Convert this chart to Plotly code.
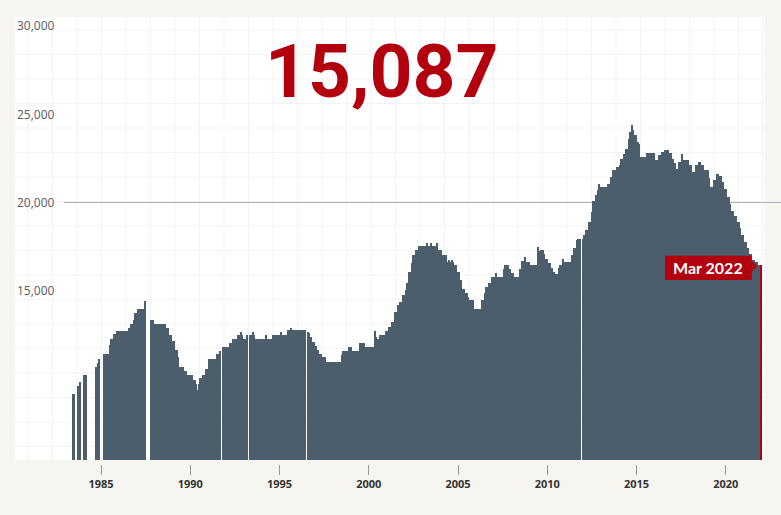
import plotly.graph_objects as go

# ---------------- data (monthly values, run-length: [value, number of months]) ----------------
# series starts January 1983; None = month with no data
RUNS_1983_1989 = [
    [None, 7], [9150, 2], [None, 2], [9600, 1], [9830, 1], [None, 2], [10265, 2], [None, 6],
    [10717, 1], [10944, 1], [11170, 1], [None, 2], [11400, 4], [11920, 1], [12250, 2], [12530, 2],
    [12700, 8], [12900, 1], [13150, 2], [13340, 1], [13750, 2], [14000, 5], [14414, 1], [None, 3],
    [13330, 2], [13110, 8], [12870, 2], [12490, 2], [12150, 2], [11640, 2], [11260, 1], [10700, 3],
    [10450, 2],
]
RUNS_1990_1999 = [
    [10220, 4], [9940, 2], [9700, 1], [9380, 1], [9700, 1], [10040, 2], [10265, 2], [10600, 2],
    [11150, 5], [11410, 2], [11600, 1], [None, 1], [11830, 5], [12030, 2], [12280, 3], [12490, 2],
    [12680, 1], [12490, 1], [12300, 2], [12490, 1], [None, 1], [12490, 2], [12680, 1], [12490, 1],
    [12260, 7], [12490, 1], [12260, 4], [12490, 5], [12680, 1], [12490, 4], [12780, 2], [12900, 1],
    [12780, 9], [None, 1], [12680, 1], [12600, 1], [12390, 1], [12110, 2], [11880, 2], [11640, 1],
    [11450, 2], [11230, 3], [10950, 10], [11360, 1], [11600, 4], [11830, 2], [11600, 5], [12050, 4],
]
RUNS_2000_2009 = [
    [11830, 6], [12700, 1], [12390, 1], [12300, 2], [12480, 4], [12715, 2], [12960, 2], [13240, 2],
    [13810, 2], [14190, 1], [14375, 2], [14750, 2], [15040, 1], [15450, 1], [16070, 2], [16550, 1],
    [17020, 2], [17340, 2], [17530, 5], [17735, 1], [17530, 2], [17735, 1], [17530, 3], [17735, 1],
    [17340, 3], [17020, 3], [16640, 1], [16750, 1], [16640, 1], [16750, 1], [16640, 1], [16450, 2],
    [16070, 2], [15600, 1], [15130, 2], [14850, 2], [14660, 1], [14470, 3], [14000, 5], [14470, 2],
    [14890, 1], [15220, 2], [15450, 2], [15790, 3], [16000, 1], [15790, 4], [16210, 1], [16450, 3],
    [16210, 1], [16020, 2], [15790, 4], [16250, 1], [16700, 2], [16900, 1], [16640, 3], [16450, 5],
    [17490, 1], [17240, 1], [17300, 2],
]
RUNS_2010_2022 = [
    [17060, 1], [16830, 2], [16550, 2], [16300, 1], [16070, 2], [15980, 2], [16265, 1], [16450, 2],
    [16830, 1], [16640, 5], [17020, 1], [17400, 2], [17870, 1], [17920, 2], [None, 1], [17920, 1],
    [18150, 1], [18430, 2], [18900, 2], [19470, 1], [20070, 2], [20410, 1], [20700, 1], [21075, 1],
    [20880, 5], [21075, 2], [21450, 1], [21830, 3], [22015, 2], [22150, 1], [22490, 2], [22720, 1],
    [23055, 2], [23580, 1], [24000, 1], [24375, 1], [24080, 1], [23810, 2], [23430, 1], [23340, 1],
    [22580, 4], [22800, 6], [22390, 2], [22700, 2], [22860, 2], [23000, 3], [22800, 2], [22490, 2],
    [22210, 1], [21920, 2], [22300, 2], [22750, 1], [22390, 4], [22110, 2], [21730, 2], [22110, 2],
    [22300, 2], [22110, 2], [21830, 3], [21360, 1], [20880, 2], [21260, 2], [21640, 2], [21500, 2],
    [21170, 1], [20740, 2], [20320, 2], [19900, 1], [19525, 2], [19225, 2], [18900, 2], [18530, 1],
    [18150, 2], [17770, 2], [17400, 1], [17075, 2], [16770, 2], [16640, 2], [16450, 3],
]
START_YEAR = 1983
BASE_VALUE = 5425              # value at the bar baseline
Y_TICKS = [15000, 20000, 25000, 30000]
Y_TICK_TEXT = ["15,000", "20,000", "25,000", "30,000"]
X_TICK_YEARS = [1985, 1990, 1995, 2000, 2005, 2010, 2015, 2020]
REF_LINE_VALUE = 20000
BIG_NUMBER = "15,087"
LAST_LABEL = "Mar 2022"

# ---------------- build monthly series ----------------
values = []
for runs in (RUNS_1983_1989, RUNS_1990_1999, RUNS_2000_2009, RUNS_2010_2022):
    for v, n in runs:
        values.extend([v] * n)

x = [START_YEAR + (i + 0.5) / 12 for i in range(len(values))]
y = [None if v is None else v - BASE_VALUE for v in values]
last_i = len(values) - 1

SLATE = "#4c5e6b"
RED = "#b3000f"
colors = [SLATE] * len(values)
colors[last_i] = RED

# ---------------- layout geometry ----------------
W, H = 781, 515
L, R, T, B = 15, 0, 17, 51
PW, PH = W - L - R, H - T - B


def pxx(px):
    return (px - L) / PW


def pxy(py):
    return (H - B - py) / PH


fig = go.Figure()
fig.add_trace(go.Bar(
    x=x, y=y, base=BASE_VALUE, width=1 / 12,
    marker=dict(color=colors, line=dict(width=0)),
    hoverinfo="skip",
))

shapes = []
# white panel
shapes.append(dict(type="rect", xref="paper", yref="paper", layer="below",
                   x0=pxx(15), x1=pxx(765), y0=pxy(460), y1=pxy(17),
                   fillcolor="white", line=dict(width=0)))
# graph-paper grid
gx = 28.0
while gx < 765:
    shapes.append(dict(type="line", xref="paper", yref="paper", layer="below",
                       x0=pxx(gx), x1=pxx(gx), y0=pxy(460), y1=pxy(17),
                       line=dict(color="#f3f3f3", width=1)))
    gx += 24.5
gy = 30.0
while gy < 460:
    shapes.append(dict(type="line", xref="paper", yref="paper", layer="below",
                       x0=pxx(15), x1=pxx(765), y0=pxy(gy), y1=pxy(gy),
                       line=dict(color="#f3f3f3", width=1)))
    gy += 24.5
# reference line
shapes.append(dict(type="line", xref="paper", yref="y", layer="below",
                   x0=pxx(64), x1=1, y0=REF_LINE_VALUE, y1=REF_LINE_VALUE,
                   line=dict(color="#a8b0b5", width=1.2)))
# label box with pointer, anchored to last bar
shapes.append(dict(type="path", xref="x", yref="y", layer="above",
                   xsizemode="pixel", ysizemode="pixel",
                   xanchor=x[last_i], yanchor=values[last_i],
                   path="M -96.5,9.5 L -9.8,9.5 L -9.8,4.5 L -4.2,-1 L -9.8,-6.5 L -9.8,-14.8 L -96.5,-14.8 Z",
                   fillcolor=RED, line=dict(width=0)))

annotations = []
for v, t in zip(Y_TICKS, Y_TICK_TEXT):
    annotations.append(dict(xref="paper", yref="y", x=0, y=v, text=t, showarrow=False,
                            xanchor="left", yanchor="middle",
                            font=dict(family="Open Sans, sans-serif", size=12, color="#565c62")))
annotations.append(dict(xref="paper", yref="paper", x=pxx(381.5), y=pxy(71.5), text=BIG_NUMBER,
                        showarrow=False, xanchor="center", yanchor="middle",
                        font=dict(family="Roboto, sans-serif", size=75,
                                  color=RED, weight="bold")))
annotations.append(dict(xref="x", yref="y", x=x[last_i], y=values[last_i], text=LAST_LABEL,
                        showarrow=False, xanchor="center", yanchor="middle",
                        xshift=-53.2, yshift=-2.6,
                        font=dict(family="Lato, sans-serif", size=16, color="white", weight="bold")))

x0 = x[last_i] - (761.5 - L) / 17.85
x1 = x0 + PW / 17.85
fig.update_layout(
    width=W, height=H,
    margin=dict(l=L, r=R, t=T, b=B, pad=0),
    paper_bgcolor="#f6f5f0",
    plot_bgcolor="rgba(0,0,0,0)",
    showlegend=False,
    bargap=0,
    shapes=shapes,
    annotations=annotations,
    xaxis=dict(range=[x0, x1], showgrid=False, zeroline=False, showline=False,
               tickvals=[yr + 2.5 / 12 for yr in X_TICK_YEARS],
               ticktext=[str(yr) for yr in X_TICK_YEARS],
               ticks="outside", ticklen=10, tickwidth=1, tickcolor="#9a9a9a",
               tickfont=dict(family="Open Sans, sans-serif", size=11, color="#333333", weight="bold")),
    yaxis=dict(range=[5199, 30500], showgrid=False, zeroline=False, showline=False,
               showticklabels=False, ticks=""),
)

fig.write_html("out.html", config={"displayModeBar": False})
